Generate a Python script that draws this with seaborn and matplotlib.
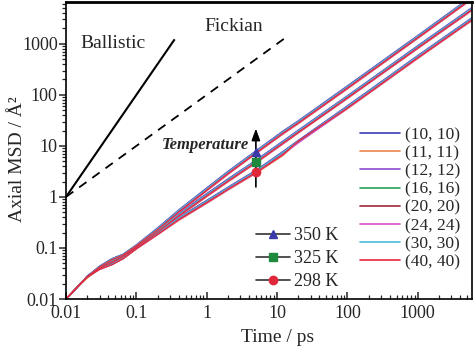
import numpy as np
import pandas as pd
import matplotlib
matplotlib.use("Agg")
import matplotlib.pyplot as plt
import seaborn as sns
from matplotlib.lines import Line2D
from matplotlib.ticker import FixedLocator, LogLocator, NullFormatter

# ---------------- data ----------------
time_ps = [0.01, 0.015, 0.02, 0.03, 0.045, 0.065, 0.1, 0.2, 0.4, 1, 2, 5, 12, 20, 100, 1000, 5900]

tubes = ["(10, 10)", "(11, 11)", "(12, 12)", "(16, 16)", "(20, 20)", "(24, 24)", "(30, 30)", "(40, 40)"]
tube_colors = ["#3c3cb4", "#e8884e", "#8a4ccf", "#2aa05a", "#a0283c", "#d84cc8", "#48bcd8", "#e8283c"]

msd_350K = [
    [0.010, 0.018, 0.028, 0.044, 0.062, 0.076, 0.115, 0.247, 0.556, 1.50, 3.16, 8.00, 19.3, 31.0, 150, 1455, 8560],
    [0.010, 0.018, 0.026, 0.042, 0.058, 0.072, 0.109, 0.223, 0.484, 1.30, 2.74, 6.98, 16.7, 27.0, 130, 1265, 7440],
    [0.010, 0.018, 0.027, 0.044, 0.061, 0.075, 0.114, 0.244, 0.546, 1.47, 3.10, 7.88, 18.9, 30.5, 147, 1428, 8400],
    [0.010, 0.018, 0.027, 0.043, 0.059, 0.073, 0.111, 0.233, 0.510, 1.37, 2.89, 7.35, 17.6, 28.4, 137, 1333, 7840],
    [0.010, 0.018, 0.027, 0.043, 0.060, 0.074, 0.112, 0.235, 0.525, 1.41, 2.98, 7.58, 18.2, 29.3, 141, 1374, 8080],
    [0.010, 0.018, 0.027, 0.042, 0.059, 0.073, 0.110, 0.226, 0.494, 1.33, 2.80, 7.13, 17.1, 27.6, 133, 1292, 7600],
    [0.010, 0.018, 0.027, 0.043, 0.061, 0.075, 0.113, 0.240, 0.536, 1.44, 3.04, 7.73, 18.5, 29.9, 144, 1401, 8240],
    [0.010, 0.018, 0.027, 0.042, 0.059, 0.073, 0.110, 0.228, 0.504, 1.36, 2.86, 7.28, 17.5, 28.1, 136, 1319, 7760],
]
msd_325K = [
    [0.010, 0.018, 0.028, 0.042, 0.056, 0.071, 0.108, 0.221, 0.471, 1.16, 2.25, 5.24, 12.3, 20.3, 96.0, 920, 5140],
    [0.010, 0.018, 0.026, 0.040, 0.052, 0.067, 0.102, 0.200, 0.409, 1.00, 1.95, 4.56, 10.7, 17.7, 84.0, 800, 4460],
    [0.010, 0.018, 0.027, 0.042, 0.055, 0.070, 0.107, 0.218, 0.462, 1.13, 2.21, 5.15, 12.1, 20.0, 94.5, 903, 5040],
    [0.010, 0.018, 0.027, 0.041, 0.053, 0.068, 0.104, 0.208, 0.431, 1.06, 2.06, 4.80, 11.3, 18.6, 88.0, 843, 4700],
    [0.010, 0.018, 0.027, 0.041, 0.054, 0.069, 0.105, 0.210, 0.444, 1.09, 2.12, 4.95, 11.6, 19.2, 91.0, 869, 4850],
    [0.010, 0.018, 0.027, 0.040, 0.053, 0.068, 0.103, 0.202, 0.418, 1.03, 2.00, 4.66, 10.9, 18.1, 85.5, 817, 4560],
    [0.010, 0.018, 0.027, 0.041, 0.055, 0.070, 0.106, 0.214, 0.453, 1.11, 2.16, 5.05, 11.8, 19.6, 92.7, 886, 4940],
    [0.010, 0.018, 0.027, 0.040, 0.053, 0.068, 0.103, 0.204, 0.427, 1.05, 2.04, 4.75, 11.2, 18.4, 87.3, 834, 4660],
]
msd_298K = [
    [0.010, 0.018, 0.028, 0.040, 0.049, 0.065, 0.101, 0.200, 0.396, 0.856, 1.55, 3.32, 7.70, 12.8, 61.0, 589, 3260],
    [0.010, 0.018, 0.026, 0.038, 0.047, 0.061, 0.095, 0.181, 0.344, 0.744, 1.35, 2.88, 6.40, 11.9, 53.0, 512, 2840],
    [0.010, 0.018, 0.027, 0.040, 0.049, 0.064, 0.100, 0.198, 0.389, 0.840, 1.52, 3.26, 7.56, 12.6, 60.0, 578, 3200],
    [0.010, 0.018, 0.027, 0.039, 0.048, 0.062, 0.097, 0.188, 0.363, 0.784, 1.42, 3.04, 7.06, 11.8, 55.9, 539, 2990],
    [0.010, 0.018, 0.027, 0.039, 0.048, 0.063, 0.098, 0.190, 0.374, 0.808, 1.46, 3.13, 7.27, 12.1, 57.6, 556, 3080],
    [0.010, 0.018, 0.027, 0.038, 0.047, 0.062, 0.096, 0.182, 0.352, 0.760, 1.38, 2.95, 6.84, 11.4, 54.2, 523, 2900],
    [0.010, 0.018, 0.027, 0.039, 0.048, 0.064, 0.099, 0.194, 0.381, 0.824, 1.49, 3.19, 7.42, 12.4, 58.7, 567, 3140],
    [0.010, 0.018, 0.027, 0.038, 0.047, 0.062, 0.097, 0.184, 0.359, 0.776, 1.41, 3.01, 6.60, 12.4, 55.3, 534, 2960],
]

temps = ["350 K", "325 K", "298 K"]
temp_markers = ["^", "s", "o"]
temp_colors = ["#3a3aa8", "#1f8a3e", "#e0283a"]
temp_marker_t = [5, 5, 5]
temp_marker_msd = [7.6, 4.9, 3.1]

ballistic_t = [0.01, 0.35]
ballistic_msd = [1, 1225]
fickian_t = [0.01, 13.5]
fickian_msd = [1, 1350]

arrow_t = 5
arrow_msd = [1.57, 22]

x_ticks = [0.01, 0.1, 1, 10, 100, 1000]
x_tick_labels = ["0.01", "0.1", "1", "10", "100", "1000"]
y_ticks = [0.01, 0.1, 1, 10, 100, 1000]
y_tick_labels = ["0.01", "0.1", "1", "10", "100", "1000"]

# ---------------- table ----------------
rows = []
for temp, block in zip(temps, [msd_350K, msd_325K, msd_298K]):
    for tube, series in zip(tubes, block):
        for t, m in zip(time_ps, series):
            rows.append({"time": t, "msd": m, "tube": tube, "temp": temp})
df = pd.DataFrame(rows)

# ---------------- style ----------------
sns.set_style("ticks")
plt.rcParams["font.family"] = ["Liberation Serif", "DejaVu Serif"]
plt.rcParams["axes.linewidth"] = 1.2

fig = plt.figure(figsize=(4.74, 3.47), dpi=100)
ax = fig.add_axes([66 / 474, 1 - 299 / 347, (472 - 66) / 474, (299 - 2) / 347])

sns.lineplot(data=df, x="time", y="msd", hue="tube", units="temp", estimator=None,
             palette=dict(zip(tubes, tube_colors)), hue_order=tubes, sort=False,
             linewidth=0.9, legend=False, ax=ax)

ax.set_xscale("log")
ax.set_yscale("log")

# guide lines
ax.plot(ballistic_t, ballistic_msd, color="black", lw=1.5, solid_capstyle="butt")
ax.plot(fickian_t, fickian_msd, color="black", lw=1.3, linestyle=(0, (5, 4)))

# temperature arrow and markers
ax.annotate("", xy=(arrow_t, arrow_msd[1]), xytext=(arrow_t, arrow_msd[0]),
            arrowprops=dict(arrowstyle="-|>,head_length=0.7,head_width=0.25", color="black",
                            lw=1.2, mutation_scale=10, shrinkA=0, shrinkB=0))
for t, m, mk, c in zip(temp_marker_t, temp_marker_msd, temp_markers, temp_colors):
    ax.plot([t], [m], marker=mk, color=c, markersize=6, linestyle="none", zorder=5)

ax.text(0.0158, 1000, "Ballistic", fontsize=14, ha="left", va="center")
ax.text(0.94, 2200, "Fickian", fontsize=14, ha="left", va="center")
ax.text(4.0, 10.2, "Temperature", fontsize=12, fontweight="bold", fontstyle="italic",
        ha="right", va="center")

ax.set_xlim(0.01, 5900)
ax.set_ylim(0.01, 6600)

ax.xaxis.set_major_locator(FixedLocator(x_ticks))
ax.set_xticklabels(x_tick_labels)
ax.yaxis.set_major_locator(FixedLocator(y_ticks))
ax.set_yticklabels(y_tick_labels)
ax.xaxis.set_minor_locator(LogLocator(base=10, subs=np.arange(2, 10), numticks=20))
ax.yaxis.set_minor_locator(LogLocator(base=10, subs=np.arange(2, 10), numticks=20))
ax.xaxis.set_minor_formatter(NullFormatter())
ax.yaxis.set_minor_formatter(NullFormatter())

ax.tick_params(axis="x", which="major", direction="in", length=5, width=1.1, labelsize=13, pad=4)
ax.tick_params(axis="x", which="minor", direction="in", length=3, width=0.9)
ax.tick_params(axis="y", which="major", direction="out", length=5, width=1.1, labelsize=13, pad=1)
ax.tick_params(axis="y", which="minor", direction="out", length=3, width=0.9)

for s in ax.spines.values():
    s.set_visible(True)
    s.set_color("black")
ax.spines["top"].set_linewidth(2.0)

ax.set_xlabel("Time / ps", fontsize=14)
ax.set_ylabel("Axial MSD / Å²", fontsize=14)
ax.xaxis.set_label_coords(0.52, -0.1)
ax.yaxis.set_label_coords(-0.12, 0.47)
ax.yaxis.label.set_va("center")

# legends
tube_handles = [Line2D([0], [0], color=c, lw=1.2) for c in tube_colors]
leg1 = ax.legend(tube_handles, tubes, loc="upper left", bbox_to_anchor=(0.724, 0.58),
                 frameon=False, fontsize=12.5, handlelength=2.3, handletextpad=0.3,
                 labelspacing=0.12, borderpad=0, borderaxespad=0)
ax.add_artist(leg1)

temp_handles = [Line2D([0], [0], color="#333333", lw=1.2, marker=mk, markersize=6,
                       markerfacecolor=c, markeredgecolor=c)
                for mk, c in zip(temp_markers, temp_colors)]
ax.legend(temp_handles, temps, loc="upper left", bbox_to_anchor=(0.468, 0.242),
          frameon=False, fontsize=13, handlelength=1.9, handletextpad=0.2,
          labelspacing=0.34, borderpad=0, borderaxespad=0)

fig.savefig("out.png", dpi=100)
